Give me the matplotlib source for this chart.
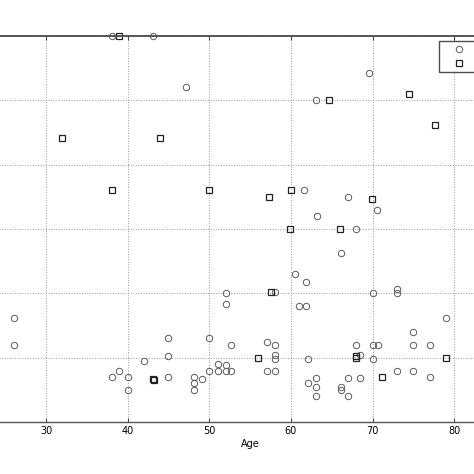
# Scatter of two groups against age (MATLAB-style figure, cropped view)

# Importing the libraries
import numpy as np
import matplotlib
matplotlib.use('Agg')
import matplotlib.pyplot as plt

# Data
circ_age = [38.1, 43.1, 47.1, 69.6, 63.1,
            61.6, 67.0, 70.5, 63.2, 68.0,
            66.1, 60.5, 61.9, 58.1, 70.0, 73.0, 73.0,
            52.1, 52.0, 61.0, 61.9, 79.0, 26.1, 75.0,
            45.0, 50.0, 57.1, 58.1, 68.0, 70.0, 70.6, 75.0, 77.0, 26.1, 52.6,
            45.0, 58.1, 58.1, 62.1, 68.5, 70.0,
            42.0, 51.1, 52.0,
            39.0, 50.0, 51.1, 52.0, 52.6, 57.1, 58.1, 73.0, 75.0,
            38.1, 40.1, 45.0, 48.1, 77.0,
            49.1, 63.1, 67.0, 68.5,
            48.1, 62.1,
            63.1, 66.1, 66.1,
            40.1, 48.1,
            63.1, 67.0]
circ_val = [60.0, 60.0, 52.1, 54.2, 50.1,
            36.1, 35.0, 33.0, 32.0, 30.0,
            26.2, 23.0, 21.7, 20.2, 20.0, 20.6, 20.0,
            20.1, 18.3, 18.1, 18.1, 16.1, 16.1, 14.0,
            13.1, 13.1, 12.4, 12.0, 12.0, 12.0, 12.0, 12.0, 12.0, 12.0, 12.0,
            10.3, 10.4, 9.8, 9.8, 10.4, 9.8,
            9.5, 9.0, 8.8,
            8.0, 8.0, 8.0, 8.0, 8.0, 8.0, 8.0, 8.0, 8.0,
            7.0, 7.0, 7.0, 7.0, 7.0,
            6.7, 6.8, 6.8, 6.8,
            6.0, 6.1,
            5.4, 5.4, 5.0,
            5.0, 5.0,
            4.0, 4.0]

sq_age = [39.0, 32.0, 44.0, 38.1, 50.0,
          64.6, 74.5, 77.6, 60.0, 57.3, 69.9, 59.9, 66.0,
          57.5, 56.0, 68.0, 68.0, 79.0, 71.1, 43.1, 43.2]
sq_val = [60.0, 44.2, 44.2, 36.1, 36.1,
          50.1, 51.0, 46.1, 36.1, 35.0, 34.6, 30.0, 30.0,
          20.2, 10.0, 10.3, 10.0, 10.0, 7.0, 6.7, 6.6]

group_names = ['Group 1', 'Group 2']
x_ticks = [20, 30, 40, 50, 60, 70, 80, 90]
x_labels = ['', '30', '40', '50', '60', '70', '80', '']
y_ticks = [0, 10, 20, 30, 40, 50, 60]

# Figure
fig = plt.figure(figsize=(4.74, 4.74), dpi=100)
ax = fig.add_axes([-0.0752, 0.1097, 1.2058, 0.8143])

ax.plot(circ_age, circ_val, 'o', ms=4.6, mfc='none', mec='#5a5a5a', mew=0.7,
        clip_on=False, label=group_names[0])
ax.plot(sq_age, sq_val, 's', ms=4.8, mfc='none', mec='#222222', mew=0.9,
        clip_on=False, label=group_names[1])

ax.set_xlim(20, 90)
ax.set_ylim(0, 60)
ax.set_xticks(x_ticks)
ax.set_xticklabels(x_labels)
ax.set_yticks(y_ticks)
ax.set_yticklabels([])  # these sit outside the cropped view
ax.grid(True, linestyle=':', color='#9a9a9a', linewidth=0.7)
ax.tick_params(direction='in', top=True, right=True, length=3, labelsize=7,
               color='#444444', pad=3)
for s in ax.spines.values():
    s.set_color('#555555')
    s.set_linewidth(1.0)
ax.spines['top'].set_linewidth(1.4)
ax.set_xlabel('Age', fontsize=7, labelpad=2)

# Legend box in the upper right corner
leg = ax.legend(loc='upper left', bbox_to_anchor=(439/474, 433/474),
                bbox_transform=fig.transFigure, fontsize=7, frameon=True,
                fancybox=False, edgecolor='#222222', borderpad=0.37,
                borderaxespad=0, handlelength=3.3, handletextpad=0.8,
                labelspacing=0.35)
leg.get_frame().set_linewidth(1.0)

plt.savefig('out.png', dpi=100)
